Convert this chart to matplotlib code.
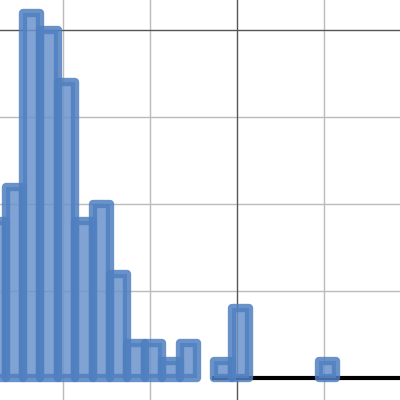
import matplotlib
matplotlib.use("Agg")
import matplotlib.pyplot as plt
import numpy as np

bin_lefts = [-14.3 + k for k in range(24)]
counts = [9, 11, 21, 20, 17, 9, 10, 6, 2, 2, 1, 2, 0, 1, 4, 0, 0, 0, 0, 1, 0, 0, 0, 0]

fig = plt.figure(figsize=(4, 4), dpi=100)
ax = fig.add_axes([0, 0, 1, 1])
ax.set_xlim(-13.62, 9.37)
ax.set_ylim(-1.26, 21.72)
for v in [-10, -5, 5]:
    ax.axvline(v, color="#bbbbbb", lw=1, zorder=0)
for v in [5, 10, 15]:
    ax.axhline(v, color="#bbbbbb", lw=1, zorder=0)
ax.axvline(0, color="#555555", lw=1, zorder=0)
ax.axhline(20, color="#555555", lw=1, zorder=0)
ax.plot([-1.3, 9.4], [0, 0], color="black", lw=3, zorder=1)
for x, c in zip(bin_lefts, counts):
    if c > 0:
        ax.bar(x, c, width=1, align="edge", color="#6a93cc", alpha=0.85,
               edgecolor="#4f7fc0", linewidth=6, joinstyle="round", zorder=2)
ax.axis("off")
fig.savefig("out.png")
